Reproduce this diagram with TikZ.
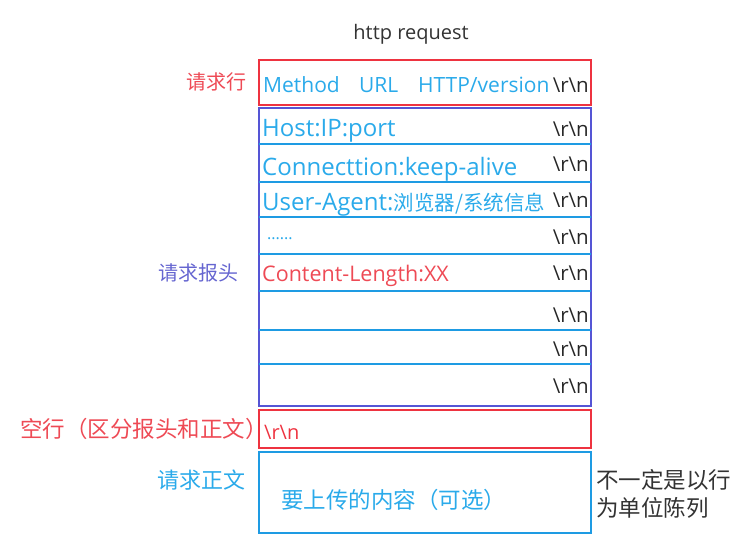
\documentclass[tikz,border=0pt]{standalone}
\usepackage{fontspec}
\setmainfont{Open Sans}
\newfontfamily\cjk{Noto Sans CJK SC}
\definecolor{cred}{HTML}{EE3340}
\definecolor{tred}{HTML}{EE4A55}
\definecolor{cind}{HTML}{5555D5}
\definecolor{tind}{HTML}{6565D0}
\definecolor{cblu}{HTML}{1E9BE3}
\definecolor{tblu}{HTML}{2AAAEA}
\definecolor{tgry}{HTML}{333333}
\tikzset{
  boxred/.style={draw=cred,line width=2pt},
  boxind/.style={draw=cind,line width=2pt},
  boxblu/.style={draw=cblu,line width=2pt},
  sepline/.style={draw=cblu,line width=2pt},
  lbl/.style={inner sep=0pt,anchor=east},
  rowtxt/.style={inner sep=0pt,anchor=west,text=tblu},
  crlf/.style={inner sep=0pt,anchor=east,text=black!85,font=\fontsize{20.5}{22}\selectfont},
}
\begin{document}
\begin{tikzpicture}[x=1pt,y=-1pt]
\useasboundingbox (0,0) rectangle (738,550);
% title
\node[inner sep=0pt,text=tgry,font=\fontsize{20}{22}\selectfont] (title) at (411,34) {http request};
% request line
\draw[boxred] (259,60) rectangle (591,105);
\node[lbl,text=tred,font=\cjk\fontsize{20}{22}\selectfont] (lreq) at (247,82) {请求行};
\node[rowtxt,font=\fontsize{21}{23}\selectfont] (meth) at (263,85) {Method};
\node[rowtxt,font=\fontsize{21}{23}\selectfont] (url) at (359,85) {URL};
\node[rowtxt,font=\fontsize{21}{23}\selectfont] (ver) at (418,85) {HTTP/version};
\node[crlf] (c0) at (589,85) {\textbackslash r\textbackslash n};
% headers
\draw[boxind] (259,108) rectangle (591,406);
\foreach \yy/\nm in {144/s1,182/s2,217/s3,254/s4,291/s5,330/s6,364/s7}{
  \coordinate (\nm a) at (259,\yy);
  \coordinate (\nm b) at (591,\yy);
  \draw[sepline] (\nm a) -- (\nm b);
}
\node[lbl,text=tind,font=\cjk\fontsize{20}{22}\selectfont] (lhdr) at (239,273) {请求报头};
\node[rowtxt,font=\fontsize{24}{26}\selectfont] (host) at (262,131) {Host:IP:port};
\node[rowtxt,font=\fontsize{24}{26}\selectfont] (conn) at (262,169) {Connecttion:keep-alive};
\node[rowtxt,font=\fontsize{24}{26}\selectfont] (ua) at (262,205) {User-Agent:{\cjk\fontsize{20.5}{22}\selectfont 浏览器/系统信息}};
\node[rowtxt,font=\fontsize{16}{18}\selectfont] (dots) at (267,239) {......};
\node[rowtxt,text=tred,font=\fontsize{21.5}{23}\selectfont] (clen) at (262,276) {Content-Length:XX};
\foreach \yy/\nm in {129/c1,164/c2,200/c3,237/c4,273/c5,315/c6,349/c7,386/c8}{
  \node[crlf] (\nm) at (589,\yy) {\textbackslash r\textbackslash n};
}
% blank line
\draw[boxred] (259,410) rectangle (591,448);
\node[inner sep=0pt,anchor=west,text=tred,font=\cjk\fontsize{22.5}{24}\selectfont] (lblank) at (20,429) {空行（区分报头和正文）};
\node[rowtxt,text=cred,font=\fontsize{20}{22}\selectfont,anchor=west] (cb) at (264,432) {\textbackslash r\textbackslash n};
% body
\draw[boxblu] (259,452) rectangle (591,533);
\node[lbl,text=tblu,font=\cjk\fontsize{22}{24}\selectfont] (lbody) at (246,480) {请求正文};
\node[rowtxt,font=\cjk\fontsize{22.5}{24}\selectfont] (body) at (281,500) {要上传的内容（可选）};
\node[inner sep=0pt,anchor=west,align=left,text=tgry,font=\cjk\fontsize{22.5}{28}\selectfont] (note) at (596,494) {不一定是以行\\为单位陈列};
\end{tikzpicture}
\end{document}
